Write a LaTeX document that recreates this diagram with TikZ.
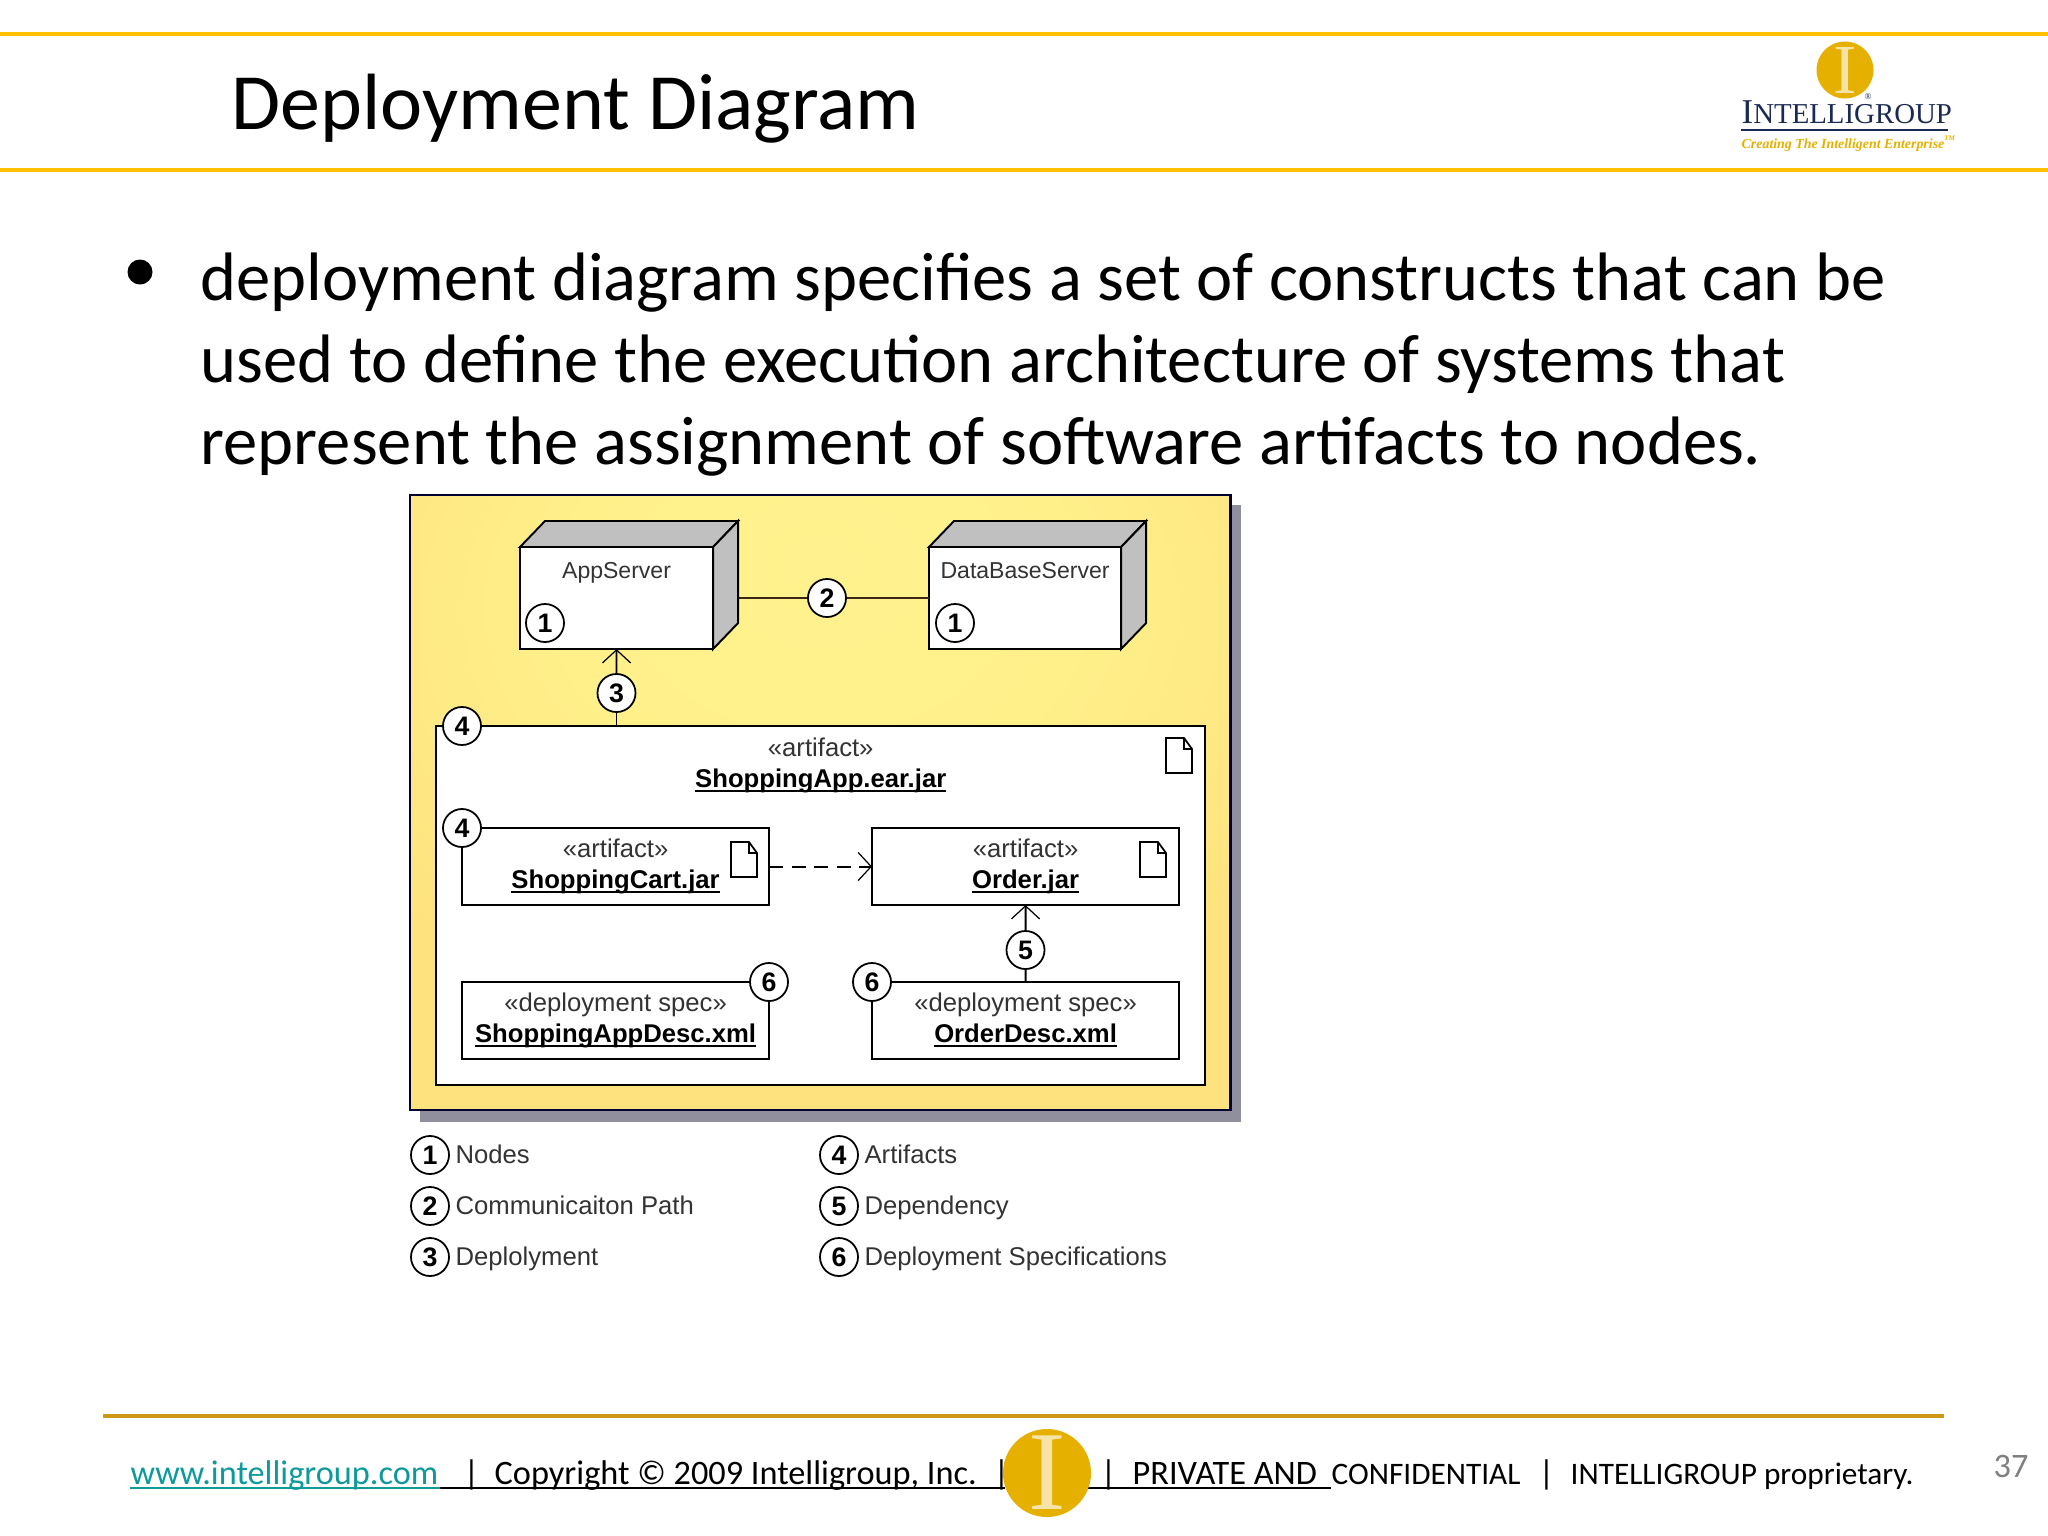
\documentclass[tikz,border=0pt]{standalone}
\usepackage{fontspec}
\setmainfont{Carlito}
\newfontfamily\diagfont{Liberation Sans}
\newfontfamily\logofont{Liberation Serif}
\usetikzlibrary{positioning, arrows.meta}
\definecolor{ruleGold}{HTML}{FFC000}
\definecolor{footGold}{HTML}{CC9A14}
\definecolor{logoGold}{HTML}{E6B000}
\definecolor{logoNavy}{HTML}{1B2A52}
\definecolor{linkTeal}{HTML}{0E9A9A}
\definecolor{boxGray}{HTML}{C0C0C0}
\definecolor{shadowGray}{HTML}{8F8F9E}
\definecolor{diagText}{HTML}{333333}
\definecolor{glowCore}{HTML}{FFF28E}
\definecolor{glowMid}{HTML}{FFF08A}
\definecolor{glowEdge}{HTML}{FEE27E}
\definecolor{glowOuter}{HTML}{FEE07C}
\pgfdeclareradialshading{panelglow}{\pgfpoint{0bp}{20bp}}{color(0bp)=(glowCore);color(16bp)=(glowMid);color(34bp)=(glowEdge);color(100bp)=(glowOuter)}
\newcommand{\DocIcon}[2]{\draw[iconline] (#1,#2) -- ++(18,0) -- ++(8,11) -- ++(0,24) -- ++(-26,0) -- cycle (#1+18,#2) -- ++(0,11) -- ++(8,0);}
\newcommand{\UnderName}[1]{\setbox0=\hbox{\bfseries #1}\rlap{\rule[-1.2pt]{\wd0}{0.5pt}}\box0}
\newcommand{\ArtLabel}[2]{\strut #1\\\strut\textcolor{black}{\UnderName{#2}}}
\tikzset{
  boxline/.style={draw=black,line width=0.55pt},
  iconline/.style={draw=black,line width=0.5pt,fill=white},
  numcirc/.style={circle,draw=black,line width=0.5pt,fill=white,inner sep=0pt,minimum size=0.38cm,text=black,font=\diagfont\bfseries\fontsize{7.6}{9}\selectfont},
  artbox/.style={boxline,fill=white,anchor=north west,inner sep=0pt,outer sep=0pt,align=center,text=diagText,font=\diagfont\fontsize{7.3}{8.9}\selectfont},
  boxtext/.style={inner sep=0pt,align=center,text=diagText,font=\diagfont\fontsize{7.3}{8.9}\selectfont},
  servertext/.style={inner sep=0pt,text=diagText,font=\diagfont\fontsize{6.55}{8}\selectfont},
  legendtext/.style={inner sep=0pt,text=diagText,text height=6pt,text depth=1.4pt,font=\diagfont\fontsize{7.3}{8.6}\selectfont},
  bodytext/.style={anchor=base west,inner sep=0pt,font=\fontsize{19.5}{23}\selectfont},
  foottext/.style={anchor=base west,inner sep=0pt,font=\fontsize{9.75}{11}\selectfont},
  footsmall/.style={anchor=base west,inner sep=0pt,font=\fontsize{8.9}{11}\selectfont},
}
\begin{document}
\begin{tikzpicture}[x=0.01cm,y=-0.01cm,node distance=0.05cm,>={Straight Barb[length=3.7pt,width=8pt,line width=0.35pt]}]
  \useasboundingbox (0,0) rectangle (2048,1536);
  % Header
  \draw[ruleGold,line width=0.9pt] (0,34) -- (2048,34);
  \draw[ruleGold,line width=0.9pt] (0,170) -- (2048,170);
  \node[anchor=base west,inner sep=0pt,font=\fontsize{22.7}{26}\selectfont] (Title) at (231,129) {Deployment Diagram};

  % Logo
  \node[circle,fill=logoGold,minimum size=0.57cm,inner sep=0pt,text=logoGold!35!white,font=\logofont\fontsize{20}{20}\selectfont] (LogoDisc) at (1845,70) {I};
  \node[anchor=base west,inner sep=0pt,text=logoNavy,font=\logofont\fontsize{8.2}{10}\selectfont] (LogoName) at (1741,123) {{\fontsize{9.9}{12}\selectfont I}NTELLIGROUP};
  \node[text=logoNavy,inner sep=0pt,font=\logofont\fontsize{2.6}{3}\selectfont] (LogoReg) at (1868,97) {®};
  \draw[logoNavy,line width=0.4pt] (1741,130) -- (1948,130);
  \node[anchor=base west,inner sep=0pt,text=logoGold,font=\logofont\bfseries\itshape\fontsize{3.95}{5}\selectfont] (LogoTag) at (1741,148) {Creating The Intelligent Enterprise\textsuperscript{\fontsize{2}{2}\selectfont TM}};

  % Bullet text
  \fill[black] (140,272) circle (12.5);
  \node[bodytext] (LineOne) at (200,300) {deployment diagram specifies a set of constructs that can be};
  \node[bodytext] (LineTwo) at (200,382) {used to define the execution architecture of systems that};
  \node[bodytext] (LineThree) at (200,464) {represent the assignment of software artifacts to nodes.};

  % Panel
  \fill[shadowGray] (420,505) rectangle (1241,1122);
  \node[shade,shading=panelglow,draw=black!80!blue,line width=0.6pt,outer sep=0pt,anchor=north west,minimum width=8.2cm,minimum height=6.15cm,inner sep=0pt] (Panel) at (410,495) {};

  % Nodes
  \node[artbox,minimum width=1.93cm,minimum height=1.02cm] (AppServer) at (520,547) {};
  \node[artbox,minimum width=1.92cm,minimum height=1.02cm] (DataBaseServer) at (929,547) {};
  \node[servertext,below=0.15cm of AppServer.north] (AppServerText) {AppServer};
  \node[servertext,below=0.15cm of DataBaseServer.north] (DataBaseServerText) {DataBaseServer};
  \node[numcirc] (PathNum) at (827,598) {2};

  \node[artbox,minimum width=7.69cm,minimum height=3.59cm] (ShoppingApp) at (436,726) {};
  \node[boxtext,below=0.08cm of ShoppingApp.north] (ShoppingAppText) {\ArtLabel{«artifact»}{ShoppingApp.ear.jar}};
  \node[artbox,minimum width=3.07cm,minimum height=0.77cm] (ShoppingCart) at (462,828) {\ArtLabel{«artifact»}{ShoppingCart.jar}};
  \node[artbox,minimum width=3.07cm,minimum height=0.77cm] (OrderJar) at (872,828) {\ArtLabel{«artifact»}{Order.jar}};
  \node[artbox,minimum width=3.07cm,minimum height=0.77cm] (ShoppingDesc) at (462,982) {\ArtLabel{«deployment spec»}{ShoppingAppDesc.xml}};
  \node[artbox,minimum width=3.07cm,minimum height=0.77cm] (OrderDesc) at (872,982) {\ArtLabel{«deployment spec»}{OrderDesc.xml}};

  \node[numcirc] (DeployNum) at (616.5,693) {3};
  \node[numcirc] (DependNum) at (1025.5,950) {5};

  % Arrows
  \draw[boxline,draw=black!70!brown] (AppServer) -- (PathNum);
  \draw[boxline,draw=black!70!brown] (PathNum) -- (DataBaseServer);
  \draw[boxline,->] (DeployNum) -- (AppServer);
  \draw[boxline] (DeployNum) -- (DeployNum |- ShoppingApp.north);
  \draw[boxline,->,dash pattern=on 4pt off 2.4pt] (ShoppingCart) -- (OrderJar);
  \draw[boxline,->] (DependNum) -- (OrderJar);
  \draw[boxline] (DependNum) -- (OrderDesc);

  % Cube faces
  \draw[boxline,fill=boxGray] (AppServer.north west) -- ++(25,-26) -- ++(193,0) -- ++(-25,26) -- cycle;
  \draw[boxline,fill=boxGray] (AppServer.north east) -- ++(25,-26) -- ++(0,102) -- ++(-25,26) -- cycle;
  \draw[boxline,fill=boxGray] (DataBaseServer.north west) -- ++(25,-26) -- ++(192,0) -- ++(-25,26) -- cycle;
  \draw[boxline,fill=boxGray] (DataBaseServer.north east) -- ++(25,-26) -- ++(0,102) -- ++(-25,26) -- cycle;

  % Markers on the boxes
  \node[numcirc] (AppNum) at (545,623) {1};
  \node[numcirc] (DataBaseNum) at (955,623) {1};
  \node[numcirc] (OuterNum) at (462,726) {4};
  \node[numcirc] (CartNum) at (462,828) {4};
  \node[numcirc] (DescNum) at (769,982) {6};
  \node[numcirc] (OrderDescNum) at (872,982) {6};
  \DocIcon{1166}{738}
  \DocIcon{731}{842}
  \DocIcon{1140}{842}

  % Legend
  \node[numcirc] (KeyOne) at (430,1155) {1};
  \node[legendtext,right=of KeyOne] (KeyOneText) {Nodes};
  \node[numcirc] (KeyTwo) at (430,1206) {2};
  \node[legendtext,right=of KeyTwo] (KeyTwoText) {Communicaiton Path};
  \node[numcirc] (KeyThree) at (430,1257) {3};
  \node[legendtext,right=of KeyThree] (KeyThreeText) {Deplolyment};
  \node[numcirc] (KeyFour) at (839,1155) {4};
  \node[legendtext,right=of KeyFour] (KeyFourText) {Artifacts};
  \node[numcirc] (KeyFive) at (839,1206) {5};
  \node[legendtext,right=of KeyFive] (KeyFiveText) {Dependency};
  \node[numcirc] (KeySix) at (839,1257) {6};
  \node[legendtext,right=of KeySix] (KeySixText) {Deployment Specifications};

  % Footer
  \draw[footGold,line width=1pt] (103,1416) -- (1944,1416);
  \draw[linkTeal,line width=0.5pt] (130,1488) -- (440,1488);
  \draw[black,line width=0.5pt] (440,1488) -- (1005,1488);
  \draw[black,line width=0.5pt] (1085,1488) -- (1331,1488);
  \node[foottext,text=linkTeal] (FootLink) at (130,1484) {www.intelligroup.com};
  \node[foottext] (FootBarA) at (463,1484) {|};
  \node[foottext] (FootCopy) at (494,1484) {Copyright © 2009 Intelligroup, Inc.};
  \node[foottext] (FootBarB) at (993,1484) {|};
  \node[circle,fill=logoGold,minimum size=0.88cm,inner sep=0pt,text=logoGold!35!white,font=\logofont\fontsize{32}{32}\selectfont] (FootLogo) at (1047,1473) {I};
  \node[foottext] (FootBarC) at (1100,1484) {|};
  \node[foottext] (FootPrivate) at (1132,1484) {PRIVATE AND};
  \node[footsmall] (FootConf) at (1331,1484) {CONFIDENTIAL};
  \node[foottext] (FootBarD) at (1538,1484) {|};
  \node[footsmall] (FootProp) at (1570,1484) {INTELLIGROUP proprietary.};
  \node[foottext,text=black!50] (PageNum) at (1993,1477) {37};
\end{tikzpicture}
\end{document}
